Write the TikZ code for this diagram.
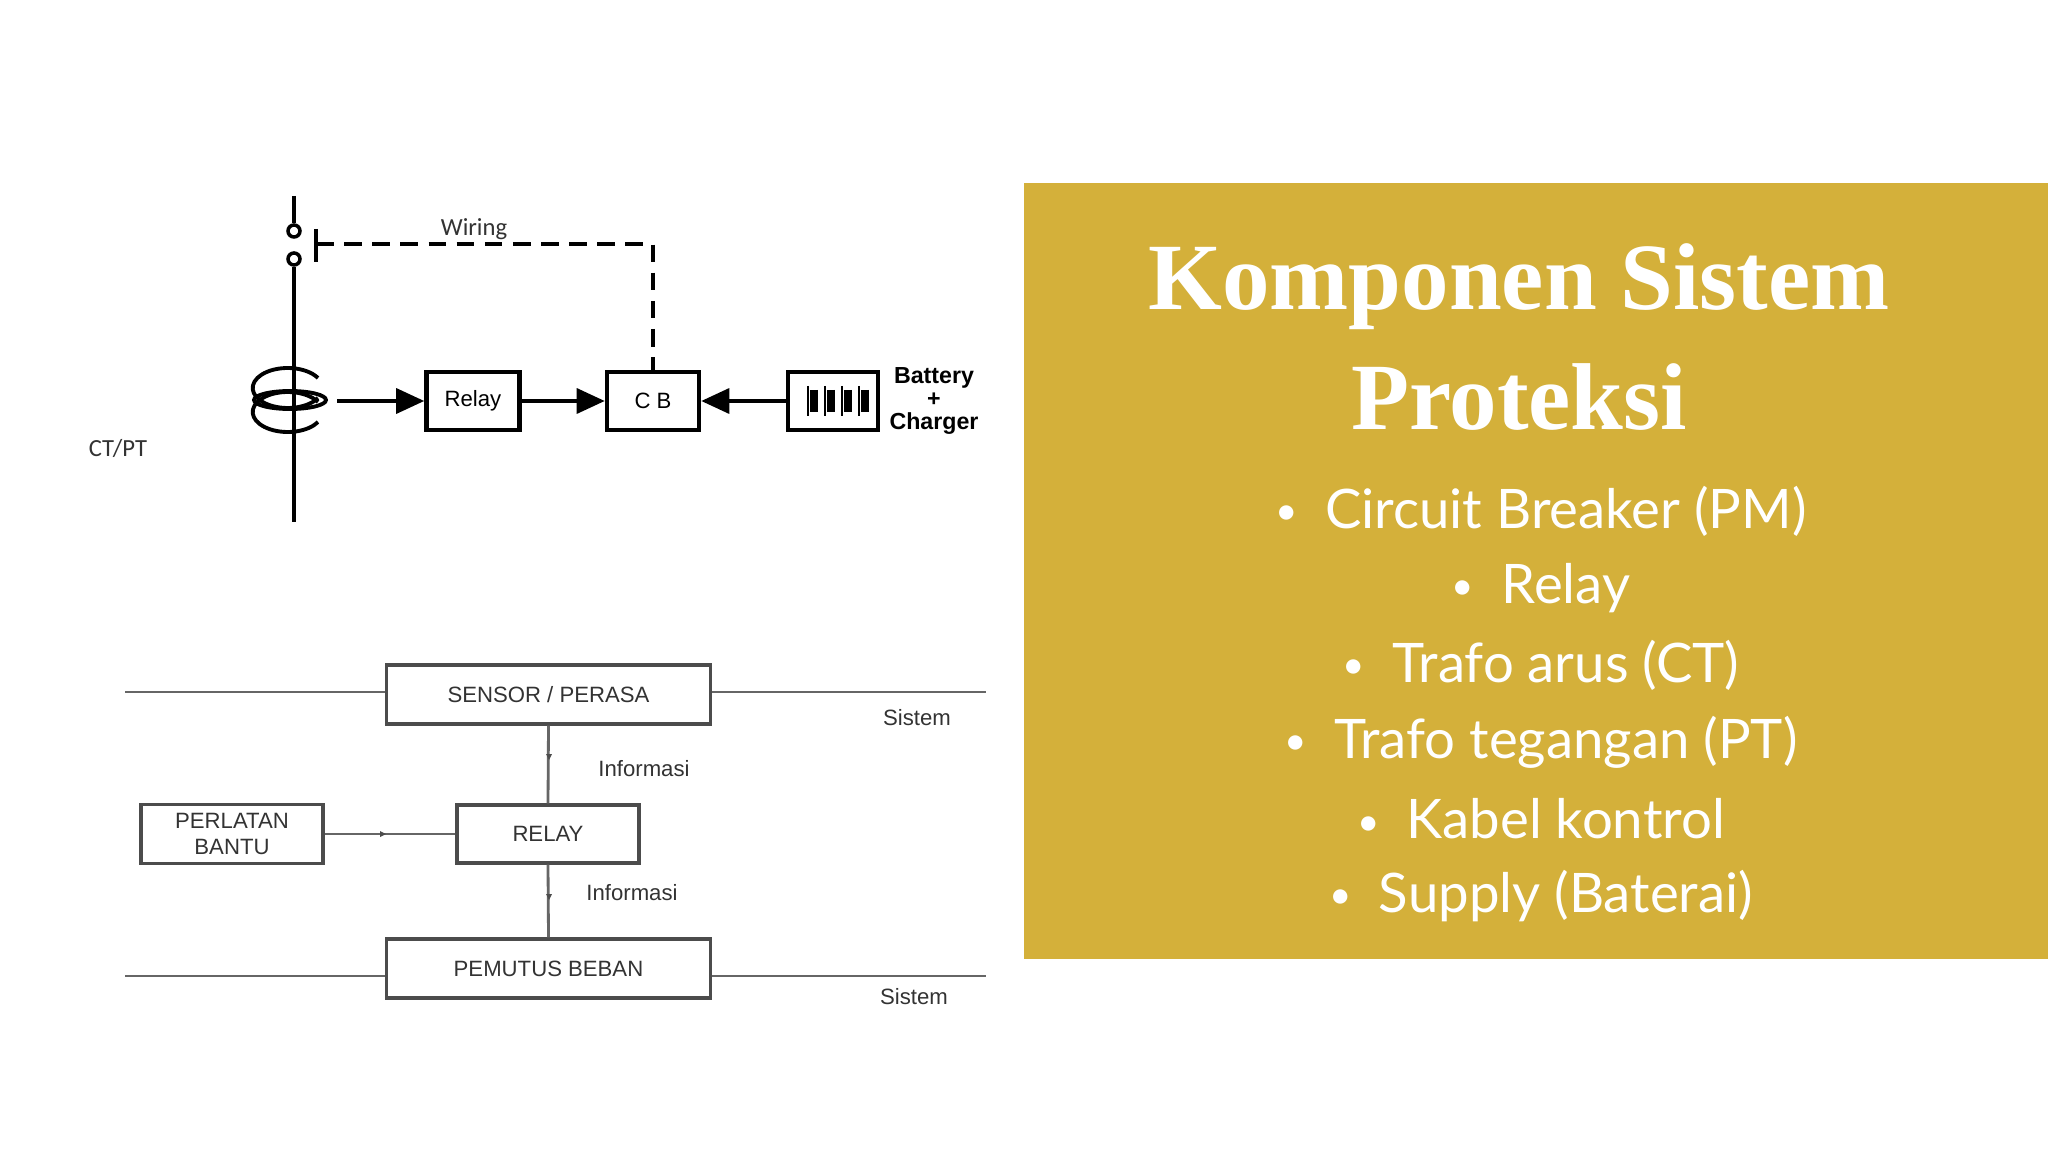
\documentclass[tikz,border=0pt]{standalone}
\usepackage{fontspec}
\setmainfont{Liberation Sans}
\newfontfamily\calib{Carlito}
\newfontfamily\titlef{Liberation Serif}
\newfontfamily\bulf{Lato}
\usetikzlibrary{arrows.meta}
\definecolor{gold}{RGB}{212,176,58}
\tikzset{
  box/.style={draw, line width=1.2pt, inner sep=0pt, font=\fontsize{6.3}{7}\selectfont},
  gbox/.style={draw=black!70, line width=0.9pt, inner sep=0pt, font=\fontsize{6.3}{7.5}\selectfont, align=center, text=black!80},
  wire/.style={line width=1.3pt},
  gwire/.style={draw=black!60, line width=0.8pt},
  lab/.style={font=\fontsize{6.3}{7}\selectfont, text=black!80},
  bul/.style={font=\bulf\fontsize{15.5}{20}\selectfont, text=white},
  term/.style={draw, circle, line width=1pt, minimum size=0.12cm, inner sep=0pt},
}
\newcommand{\bl}{{\fontsize{11}{11}\selectfont\raisebox{1pt}{•}}\enspace}
\begin{document}
\begin{tikzpicture}[x=0.01cm,y=-0.01cm]
\useasboundingbox (0,0) rectangle (2048,1152);
\fill[white] (0,0) rectangle (2048,1152);
% top diagram
\coordinate (ltop) at (294,196);
\coordinate (lbot) at (294,522);
\node[term] (c1) at (294,231) {};
\node[term] (c2) at (294,259) {};
\draw[wire] (ltop) -- (c1.north);
\draw[wire] (c2.south) -- (lbot);
\draw[wire] (316,229) -- (316,262);
\node[box, minimum width=0.93cm, minimum height=0.58cm] (relay) at (473,401) {Relay};
\node[box, minimum width=0.92cm, minimum height=0.58cm] (cb) at (653,401) {C B};
\node[box, minimum width=0.90cm, minimum height=0.58cm] (bat) at (833,401) {};
\foreach \xx in {808,825,842,859}{\draw[line width=0.5pt] (\xx,386) -- (\xx,416);}
\foreach \xx in {814,831,848,865}{\draw[line width=2.2pt] (\xx,390) -- (\xx,412);}
\node[font=\bfseries\fontsize{6.6}{6.5}\selectfont, align=center] (batt) at (934,401) {Battery\\+\\Charger};
\draw[wire, dashed, dash pattern=on 5pt off 3pt] (316,244) -| (cb.north);
\node[font=\calib\fontsize{7}{8}\selectfont, text=black!80] (wir) at (474,229) {Wiring};
\node[font=\calib\fontsize{7}{8}\selectfont, text=black!80] (ctpt) at (118,448) {CT/PT};
% CT coil
\draw[line width=1.1pt] (318,398) arc[start angle=30,end angle=330,x radius=35,y radius=20];
\draw[line width=1.1pt] (318,422) arc[start angle=30,end angle=330,x radius=35,y radius=20];
\draw[line width=1.1pt] (290,400) ellipse[x radius=36, y radius=9];
\coordinate (ctout) at (337,401);
\draw[wire, -{Triangle[length=8pt,width=7pt]}] (ctout) -- (relay.west);
\draw[wire, -{Triangle[length=8pt,width=7pt]}] (relay.east) -- (cb.west);
\draw[wire, -{Triangle[length=8pt,width=7pt]}] (bat.west) -- (cb.east);
% bottom diagram
\node[gbox, minimum width=3.23cm, minimum height=0.59cm] (sen) at (548.5,694.5) {SENSOR / PERASA};
\node[gbox, minimum width=1.82cm, minimum height=0.58cm] (rel) at (548,834) {RELAY};
\node[gbox, minimum width=1.82cm, minimum height=0.59cm] (per) at (232,834) {PERLATAN\\BANTU};
\node[gbox, minimum width=3.23cm, minimum height=0.59cm] (pem) at (548.5,968.5) {PEMUTUS BEBAN};
\coordinate (l1a) at (125,692); \coordinate (l1b) at (986,692);
\coordinate (l2a) at (125,976); \coordinate (l2b) at (986,976);
\draw[gwire] (l1a) -- (sen.west |- l1a);
\draw[gwire] (sen.east |- l1b) -- (l1b);
\draw[gwire] (l2a) -- (pem.west |- l2a);
\draw[gwire] (pem.east |- l2b) -- (l2b);
\draw[gwire] (sen.south) -- (rel.north);
\draw[gwire] (rel.south) -- (pem.north);
\draw[gwire] (per.east) -- (rel.west);
\fill[black!70] (546,754) -- (552,754) -- (549,760) -- cycle;
\fill[black!70] (546,894) -- (552,894) -- (549,900) -- cycle;
\fill[black!70] (380,831) -- (380,837) -- (386,834) -- cycle;
\node[lab] (inf1) at (644,769) {Informasi};
\node[lab] (inf2) at (632,893) {Informasi};
\node[lab] (s1) at (917,718) {Sistem};
\node[lab] (s2) at (914,997) {Sistem};
% right panel
\fill[gold] (1024,183) rectangle (2048,959);
\node[font=\titlef\bfseries\fontsize{27}{32}\selectfont, text=white, align=center] (title) at (1519,337) {Komponen Sistem\\[2pt]Proteksi};
\node[bul] (b1) at (1541,511) {\bl Circuit Breaker (PM)};
\node[bul] (b2) at (1541,588) {\bl Relay};
\node[bul] (b3) at (1541,665) {\bl Trafo arus (CT)};
\node[bul] (b4) at (1541,742) {\bl Trafo tegangan (PT)};
\node[bul] (b5) at (1541,819) {\bl Kabel kontrol};
\node[bul] (b6) at (1541,896) {\bl Supply (Baterai)};
\end{tikzpicture}
\end{document}
